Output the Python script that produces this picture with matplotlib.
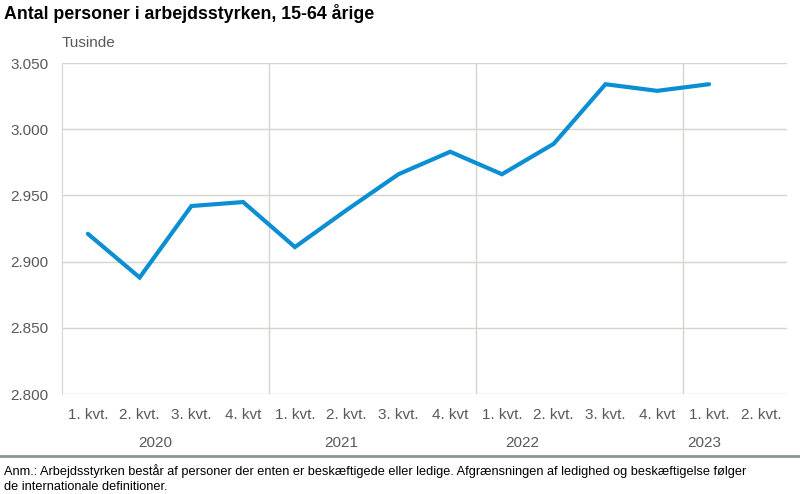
import matplotlib
matplotlib.use("Agg")
import matplotlib.pyplot as plt
import numpy as np

years = ["2020", "2021", "2022", "2023"]
year_pos = [1.3, 4.9, 8.4, 11.9]
quarters = ["1. kvt.", "2. kvt.", "3. kvt.", "4. kvt"] * 3 + ["1. kvt.", "2. kvt."]
values = [2921, 2888, 2942, 2945, 2911, 2939, 2966, 2983, 2966, 2989,
          3034, 3029, 3034]
yticks = [2800, 2850, 2900, 2950, 3000, 3050]

plt.rcParams["font.family"] = ["Liberation Sans", "DejaVu Sans"]
grid_c = "#d6d4cc"
text_c = "#595959"

fig = plt.figure(figsize=(8, 4.94), dpi=100)
ax = fig.add_axes([0.0775, 0.2024, 0.9058, 0.6700])

x = np.arange(len(values))
ax.plot(x, values, color="#0b8fd2", lw=3.0, solid_capstyle="round",
        solid_joinstyle="miter", zorder=3)

ax.set_xlim(-0.5, len(quarters) - 0.5)
ax.set_ylim(2800, 3050)
ax.set_yticks(yticks)
ax.set_yticklabels([f"{v/1000:.3f}" for v in yticks])
ax.grid(axis="y", color=grid_c, lw=1)
for b in [3.5, 7.5, 11.5]:
    ax.axvline(b, color=grid_c, lw=1, zorder=1)
for s in ["top", "right", "bottom"]:
    ax.spines[s].set_visible(False)
ax.spines["left"].set_color(grid_c)
ax.tick_params(length=0, labelsize=11, colors=text_c)
ax.tick_params(axis="y", pad=10)
ax.tick_params(axis="x", pad=10)
ax.set_xticks(np.arange(len(quarters)))
ax.set_xticklabels(quarters)
ax.set_axisbelow(True)

for p, yr in zip(year_pos, years):
    ax.text(p, -0.148, yr, transform=ax.get_xaxis_transform(),
            ha="center", va="center", fontsize=11, color=text_c)

ax.text(0, 1.06, "Tusinde", transform=ax.transAxes, ha="left", va="center",
        fontsize=11, color=text_c)

fig.text(0.005, 0.972, "Antal personer i arbejdsstyrken, 15-64 årige",
         fontsize=12.8, fontweight="bold", ha="left", va="center")
fig.add_artist(plt.Line2D([0, 1], [0.077, 0.077], color="#8c9696", lw=2))
fig.text(0.005, 0.032,
         "Anm.: Arbejdsstyrken består af personer der enten er beskæftigede eller ledige. "
         "Afgrænsningen af ledighed og beskæftigelse følger\nde internationale definitioner.",
         fontsize=9.2, ha="left", va="center", linespacing=1.3)

fig.savefig("out.png", dpi=100)
